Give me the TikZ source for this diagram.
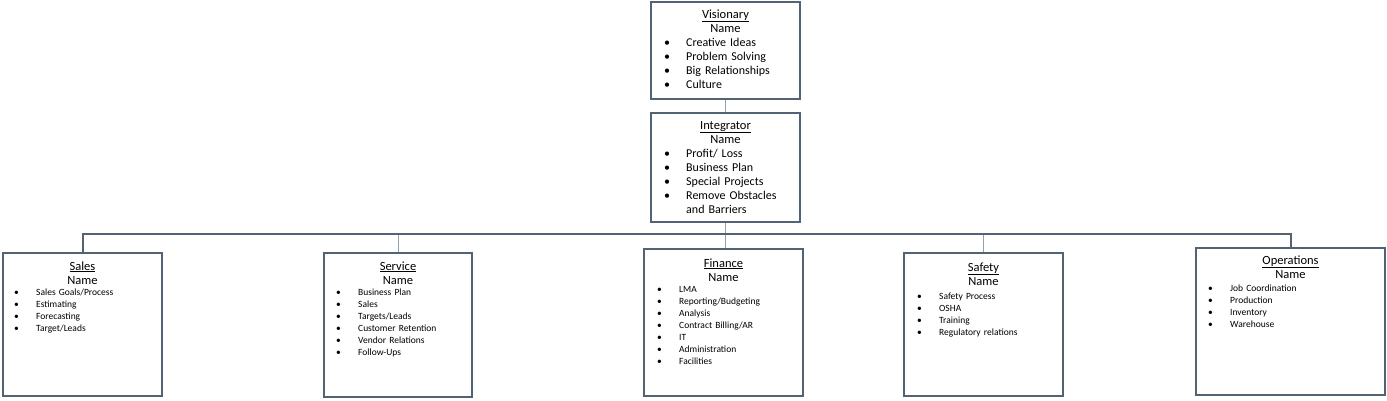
\documentclass[tikz,border=0pt]{standalone}
\usepackage{fontspec}
\setmainfont{Carlito}
\definecolor{boxline}{RGB}{82,100,115}
\definecolor{linkline}{RGB}{140,162,178}
\newcommand{\orgitem}[1]{\makebox[22pt][l]{\textbullet}#1}
\begin{document}
\begin{tikzpicture}[
    x = 1pt, y = -1pt,
    box/.style = {draw=boxline, line width=2pt, inner sep=0pt},
    head/.style = {align=center, text width=150pt, inner sep=0pt, anchor=base, font=\fontsize{12.5}{14}\selectfont},
    toplist/.style = {align=left, text width=140pt, inner sep=0pt, anchor=base west, font=\fontsize{12}{14}\selectfont},
    sublist/.style = {align=left, text width=150pt, inner sep=0pt, anchor=base west, font=\fontsize{9.5}{12}\selectfont},
    bus/.style = {draw=boxline, line width=2pt},
    link/.style = {draw=linkline, line width=1pt}]
  \useasboundingbox (0, 0) rectangle (1387, 400);
  \node [box, minimum width=149pt, minimum height=97pt] (vis) at (725.5, 50) {};
  \node [box, minimum width=149pt, minimum height=109pt] (int) at (725.5, 167.5) {};
  \node [box, minimum width=159pt, minimum height=143pt] (sal) at (82.5, 324.5) {};
  \node [box, minimum width=148pt, minimum height=144pt] (ser) at (398, 325) {};
  \node [box, minimum width=159pt, minimum height=147pt] (fin) at (723.5, 322.5) {};
  \node [box, minimum width=159pt, minimum height=143pt] (saf) at (983.5, 324.5) {};
  \node [box, minimum width=189pt, minimum height=147pt] (ops) at (1290.5, 321.5) {};
  \coordinate (bus) at (726, 234);
  \draw [link] (vis.south) -- (int.north);
  \draw [link] (int.south) -- (int.south |- fin.north);
  \foreach \n in {ser, saf}
    \draw [link] (\n.north) -- (\n.north |- bus);
  \draw [bus] (sal.north) |- (bus) -| (ops.north);
  \node [head] (vis-head) at (725.5, 18) {\underline{Visionary}\\Name};
  \node [toplist] (vis-list) at (664, 46) {\orgitem{Creative Ideas}\\\orgitem{Problem Solving}\\\orgitem{Big Relationships}\\\orgitem{Culture}};
  \node [head] (int-head) at (725.5, 129) {\underline{Integrator}\\Name};
  \node [toplist] (int-list) at (664, 157) {\orgitem{Profit/ Loss}\\\orgitem{Business Plan}\\\orgitem{Special Projects}\\\orgitem{Remove Obstacles}\\\hspace*{22pt}and Barriers};
  \node [head] (sal-head) at (82.5, 270) {\underline{Sales}\\Name};
  \node [sublist] (sal-list) at (14, 295) {\orgitem{Sales Goals/Process}\\\orgitem{Estimating}\\\orgitem{Forecasting}\\\orgitem{Target/Leads}};
  \node [head] (ser-head) at (398, 270) {\underline{Service}\\Name};
  \node [sublist] (ser-list) at (336, 295) {\orgitem{Business Plan}\\\orgitem{Sales}\\\orgitem{Targets/Leads}\\\orgitem{Customer Retention}\\\orgitem{Vendor Relations}\\\orgitem{Follow-Ups}};
  \node [head] (fin-head) at (723.5, 267) {\underline{Finance}\\Name};
  \node [sublist] (fin-list) at (657, 292) {\orgitem{LMA}\\\orgitem{Reporting/Budgeting}\\\orgitem{Analysis}\\\orgitem{Contract Billing/AR}\\\orgitem{IT}\\\orgitem{Administration}\\\orgitem{Facilities}};
  \node [head] (saf-head) at (983.5, 271) {\underline{Safety}\\Name};
  \node [sublist] (saf-list) at (917, 299) {\orgitem{Safety Process}\\\orgitem{OSHA}\\\orgitem{Training}\\\orgitem{Regulatory relations}};
  \node [head] (ops-head) at (1290.5, 264) {\underline{Operations}\\Name};
  \node [sublist] (ops-list) at (1208, 291) {\orgitem{Job Coordination}\\\orgitem{Production}\\\orgitem{Inventory}\\\orgitem{Warehouse}};
\end{tikzpicture}
\end{document}
